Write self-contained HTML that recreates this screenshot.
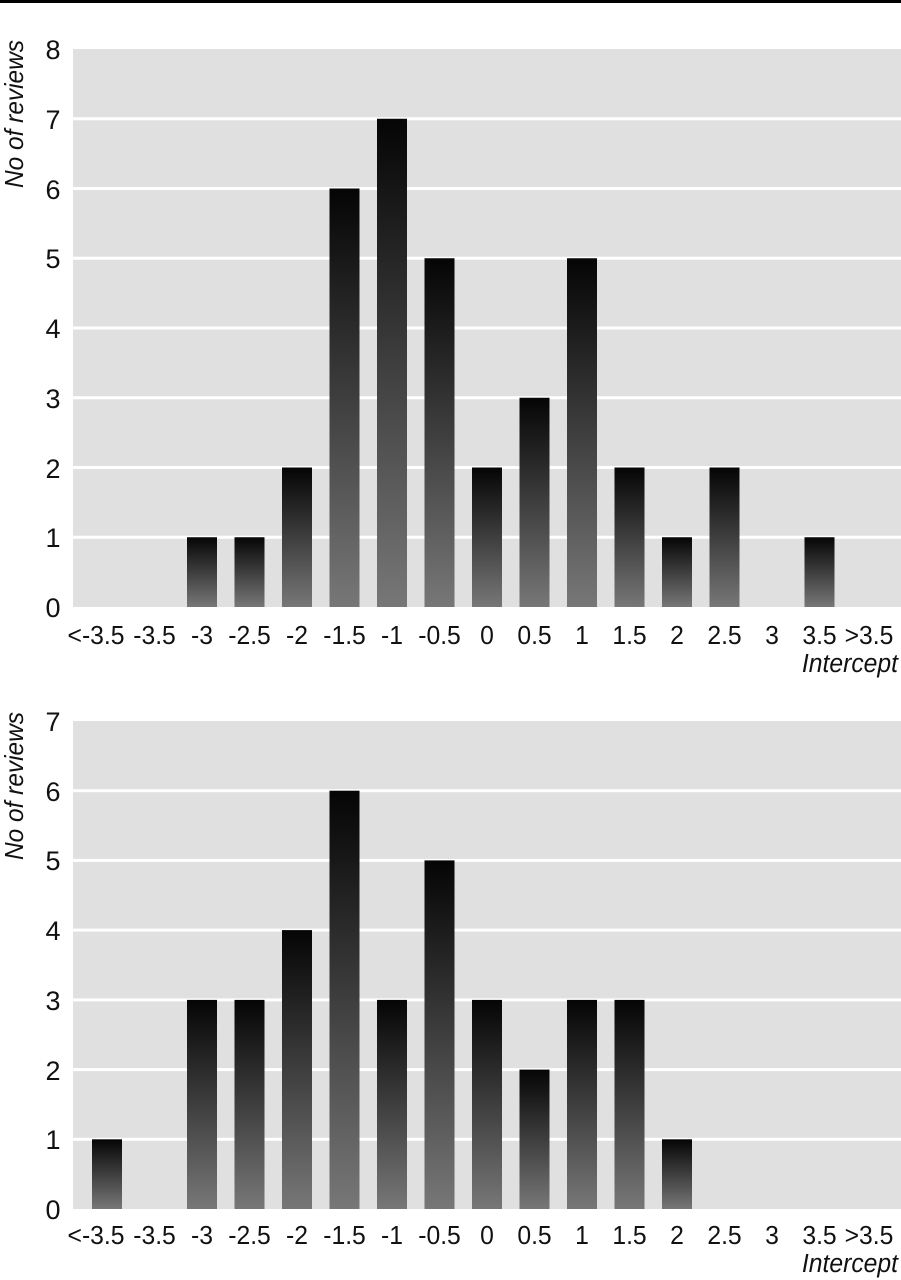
<!DOCTYPE html>
<html><head><meta charset="utf-8"><style>
html,body{margin:0;padding:0;background:#fff;}
svg{display:block;}
text{font-family:"Liberation Sans Narrow","Liberation Sans",sans-serif;fill:#111;}
</style></head><body>
<svg width="901" height="1280" viewBox="0 0 901 1280" xmlns="http://www.w3.org/2000/svg">
<defs>
<linearGradient id="g" x1="0" y1="0" x2="0" y2="1">
<stop offset="0" stop-color="#050505"/>
<stop offset="1" stop-color="#777777"/>
</linearGradient>
</defs>
<rect x="0" y="0" width="901" height="3" fill="#000"/>

<!-- TOP CHART -->
<rect x="73" y="49" width="828" height="558" fill="#dfe0df"/>
<g fill="#fff">
<rect x="73" y="535.75" width="828" height="3"/>
<rect x="73" y="466" width="828" height="3"/>
<rect x="73" y="396.25" width="828" height="3"/>
<rect x="73" y="326.5" width="828" height="3"/>
<rect x="73" y="256.75" width="828" height="3"/>
<rect x="73" y="187" width="828" height="3"/>
<rect x="73" y="117.25" width="828" height="3"/>
</g>
<g fill="url(#g)">
<rect x="187" y="537.25" width="30" height="69.75"/>
<rect x="234.5" y="537.25" width="30" height="69.75"/>
<rect x="282" y="467.5" width="30" height="139.5"/>
<rect x="329.5" y="188.5" width="30" height="418.5"/>
<rect x="377" y="118.75" width="30" height="488.25"/>
<rect x="424.5" y="258.25" width="30" height="348.75"/>
<rect x="472" y="467.5" width="30" height="139.5"/>
<rect x="519.5" y="397.75" width="30" height="209.25"/>
<rect x="567" y="258.25" width="30" height="348.75"/>
<rect x="614.5" y="467.5" width="30" height="139.5"/>
<rect x="662" y="537.25" width="30" height="69.75"/>
<rect x="709.5" y="467.5" width="30" height="139.5"/>
<rect x="804.5" y="537.25" width="30" height="69.75"/>
</g>
<g font-size="27" text-anchor="middle">
<text x="53" y="617">0</text>
<text x="53" y="547">1</text>
<text x="53" y="478">2</text>
<text x="53" y="408">3</text>
<text x="53" y="338">4</text>
<text x="53" y="268">5</text>
<text x="53" y="199">6</text>
<text x="53" y="129">7</text>
<text x="53" y="59">8</text>
</g>
<g font-size="26" text-anchor="middle">
<text transform="translate(96,644) scale(.95 1)">&lt;-3.5</text>
<text transform="translate(154.5,644) scale(.95 1)">-3.5</text>
<text transform="translate(202,644) scale(.95 1)">-3</text>
<text transform="translate(249.5,644) scale(.95 1)">-2.5</text>
<text transform="translate(297,644) scale(.95 1)">-2</text>
<text transform="translate(344.5,644) scale(.95 1)">-1.5</text>
<text transform="translate(392,644) scale(.95 1)">-1</text>
<text transform="translate(439.5,644) scale(.95 1)">-0.5</text>
<text transform="translate(487,644) scale(.95 1)">0</text>
<text transform="translate(534.5,644) scale(.95 1)">0.5</text>
<text transform="translate(582,644) scale(.95 1)">1</text>
<text transform="translate(629.5,644) scale(.95 1)">1.5</text>
<text transform="translate(677,644) scale(.95 1)">2</text>
<text transform="translate(724.5,644) scale(.95 1)">2.5</text>
<text transform="translate(772,644) scale(.95 1)">3</text>
<text transform="translate(819.5,644) scale(.95 1)">3.5</text>
<text transform="translate(869,644) scale(.95 1)">&gt;3.5</text>
</g>
<text transform="translate(898,672) scale(.95 1)" font-size="26" font-style="italic" text-anchor="end">Intercept</text>
<text transform="translate(23,114) rotate(-90)" font-size="26" font-style="italic" text-anchor="middle" textLength="148" lengthAdjust="spacingAndGlyphs">No of reviews</text>

<!-- BOTTOM CHART -->
<rect x="73" y="721" width="828" height="488" fill="#dfe0df"/>
<g fill="#fff">
<rect x="73" y="1137.8" width="828" height="3"/>
<rect x="73" y="1068.1" width="828" height="3"/>
<rect x="73" y="998.4" width="828" height="3"/>
<rect x="73" y="928.6" width="828" height="3"/>
<rect x="73" y="858.9" width="828" height="3"/>
<rect x="73" y="789.2" width="828" height="3"/>
</g>
<g fill="url(#g)">
<rect x="92" y="1139.3" width="30" height="69.7"/>
<rect x="187" y="999.9" width="30" height="209.1"/>
<rect x="234.5" y="999.9" width="30" height="209.1"/>
<rect x="282" y="930.1" width="30" height="278.9"/>
<rect x="329.5" y="790.7" width="30" height="418.3"/>
<rect x="377" y="999.9" width="30" height="209.1"/>
<rect x="424.5" y="860.4" width="30" height="348.6"/>
<rect x="472" y="999.9" width="30" height="209.1"/>
<rect x="519.5" y="1069.6" width="30" height="139.4"/>
<rect x="567" y="999.9" width="30" height="209.1"/>
<rect x="614.5" y="999.9" width="30" height="209.1"/>
<rect x="662" y="1139.3" width="30" height="69.7"/>
</g>
<g font-size="27" text-anchor="middle">
<text x="53" y="1219">0</text>
<text x="53" y="1149">1</text>
<text x="53" y="1080">2</text>
<text x="53" y="1010">3</text>
<text x="53" y="940">4</text>
<text x="53" y="870">5</text>
<text x="53" y="801">6</text>
<text x="53" y="731">7</text>
</g>
<g font-size="26" text-anchor="middle">
<text transform="translate(96,1244) scale(.95 1)">&lt;-3.5</text>
<text transform="translate(154.5,1244) scale(.95 1)">-3.5</text>
<text transform="translate(202,1244) scale(.95 1)">-3</text>
<text transform="translate(249.5,1244) scale(.95 1)">-2.5</text>
<text transform="translate(297,1244) scale(.95 1)">-2</text>
<text transform="translate(344.5,1244) scale(.95 1)">-1.5</text>
<text transform="translate(392,1244) scale(.95 1)">-1</text>
<text transform="translate(439.5,1244) scale(.95 1)">-0.5</text>
<text transform="translate(487,1244) scale(.95 1)">0</text>
<text transform="translate(534.5,1244) scale(.95 1)">0.5</text>
<text transform="translate(582,1244) scale(.95 1)">1</text>
<text transform="translate(629.5,1244) scale(.95 1)">1.5</text>
<text transform="translate(677,1244) scale(.95 1)">2</text>
<text transform="translate(724.5,1244) scale(.95 1)">2.5</text>
<text transform="translate(772,1244) scale(.95 1)">3</text>
<text transform="translate(819.5,1244) scale(.95 1)">3.5</text>
<text transform="translate(869,1244) scale(.95 1)">&gt;3.5</text>
</g>
<text transform="translate(898,1272) scale(.95 1)" font-size="26" font-style="italic" text-anchor="end">Intercept</text>
<text transform="translate(23,786) rotate(-90)" font-size="26" font-style="italic" text-anchor="middle" textLength="148" lengthAdjust="spacingAndGlyphs">No of reviews</text>
</svg>
</body></html>
